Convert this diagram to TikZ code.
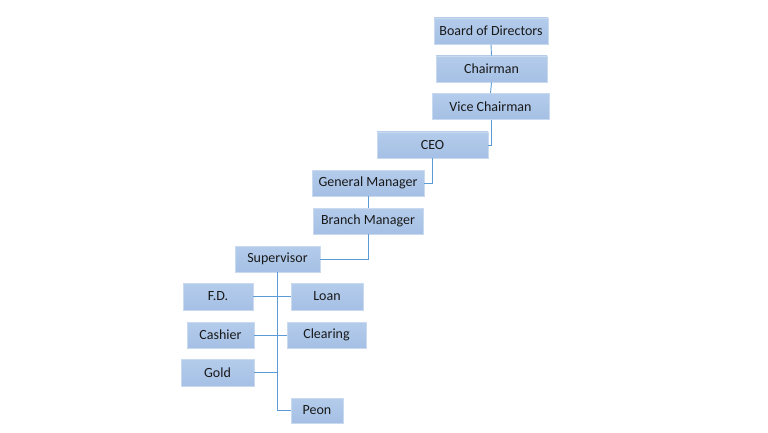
\documentclass[tikz,border=0pt]{standalone}
\usepackage{fontspec}
\setmainfont{Carlito}
\definecolor{boxfill}{HTML}{A5C0E5}
\definecolor{boxtop}{HTML}{B4CCEB}
\definecolor{boxline}{HTML}{C9DAF0}
\definecolor{conn}{HTML}{5B9BD5}
\tikzset{
  orgbox/.style={draw=boxline, line width=0.6pt, top color=boxtop, bottom color=boxfill,
     minimum height=26pt, inner sep=0pt, font=\fontsize{14}{16}\selectfont, text=black!90},
  link/.style={draw=conn, line width=0.9pt}
}
\begin{document}
\begin{tikzpicture}[x=1pt,y=-1pt]
\useasboundingbox (0,0) rectangle (768,433);
\node[orgbox, minimum width=114pt] (bod) at (491,31) {Board of Directors};
\node[orgbox, minimum width=111pt] (ch) at (491.5,69) {Chairman};
\node[orgbox, minimum width=117pt] (vc) at (490.5,106.5) {Vice Chairman};
\node[orgbox, minimum width=111pt] (ceo) at (432.5,145) {CEO};
\node[orgbox, minimum width=112pt] (gm) at (368,183) {General Manager};
\node[orgbox, minimum width=110pt] (bm) at (368,221) {Branch Manager};
\node[orgbox, minimum width=85pt] (sup) at (277.5,259) {Supervisor};
\node[orgbox, minimum width=70pt, minimum height=27pt] (fd) at (218,296.5) {F.D.};
\node[orgbox, minimum width=72pt, minimum height=27pt] (loan) at (327,296.5) {Loan};
\node[orgbox, minimum width=67pt] (cash) at (220.5,335) {Cashier};
\node[orgbox, minimum width=79pt] (clr) at (326.5,335) {Clearing};
\node[orgbox, minimum width=73pt, minimum height=27pt] (gold) at (217.5,372.5) {Gold};
\node[orgbox, minimum width=52pt, minimum height=25pt] (peon) at (317,410.5) {Peon};
\draw[link] (bod.south) -- (ch.north);
\draw[link] (ch.south) -- (vc.north);
\draw[link] (vc.south -| 491,0) |- (ceo.east);
\draw[link] (ceo.south) |- (gm.east);
\draw[link] (gm.south) -- (bm.north);
\draw[link] (bm.south) |- (sup.east);
\draw[link] (sup.south) |- (peon.west);
\draw[link] (fd.east) -- (loan.west);
\draw[link] (cash.east) -- (clr.west);
\draw[link] (gold.east) -- (gold.east -| sup.south);
\end{tikzpicture}
\end{document}
